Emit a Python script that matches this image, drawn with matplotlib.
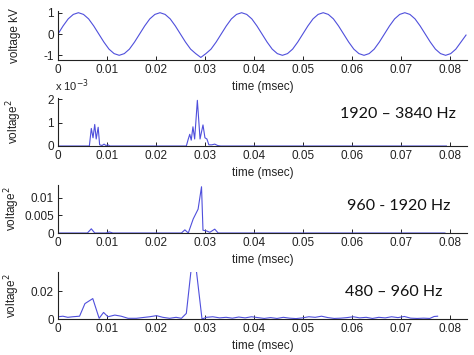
import numpy as np
import matplotlib
matplotlib.use("Agg")
import matplotlib.pyplot as plt

plt.rcParams["font.family"] = ["Liberation Sans", "DejaVu Sans"]

# --- data ---
# top panel: voltage waveform, 16 samples per cycle over 5 cycles
t_volt = np.linspace(0, 0.0833, 81)
volt = [0, .38, .71, .92, 1, .92, .71, .38, 0, -.38, -.71, -.92, -1, -.92, -.71, -.38,
        0, .38, .71, .92, 1, .92, .71, .38, 0, -.38, -.71, -.92, -1.1, -.92, -.71, -.38,
        0, .38, .71, .92, 1, .92, .71, .38, 0, -.38, -.71, -.92, -1, -.92, -.71, -.38,
        0, .38, .71, .92, 1, .92, .71, .38, 0, -.38, -.71, -.92, -1, -.92, -.71, -.38,
        0, .38, .71, .92, 1, .92, .71, .38, 0, -.38, -.71, -.92, -1, -.92, -.71, -.38,
        -0.05]

# 1920 - 3840 Hz band energy (units of 1e-3)
t_hi = [0, 0.0064, 0.0068, 0.00715, 0.0075, 0.0078, 0.0082, 0.0085, 0.0090, 0.0094,
        0.0098, 0.0102, 0.0106, 0.0262, 0.0266, 0.0269, 0.0272, 0.02755, 0.0279,
        0.02845, 0.0290, 0.0296, 0.0300, 0.0304, 0.0308, 0.0314, 0.0320, 0.0326,
        0.0332, 0.0793]
e_hi = [0, 0, 0.75, 0.35, 0.92, 0.3, 0.8, 0.05, 0.02, 0.08,
        0.02, 0.05, 0, 0, 0.3, 0.5, 0.25, 0.82, 0.3,
        1.95, 0.3, 0.9, 0.35, 0.3, 0.05, 0.05, 0.08, 0.02,
        0, 0]

# 960 - 1920 Hz band energy
t_mid = [0, 0.0060, 0.0068, 0.0075, 0.0098, 0.0105, 0.0112, 0.0252, 0.0259, 0.0266,
         0.0276, 0.0286, 0.0293, 0.0296, 0.0303, 0.0310, 0.0320, 0.0327, 0.0790]
e_mid = [0, 0, 0.0012, 0, 0, 0.0003, 0, 0, 0.0009, 0,
         0.004, 0.0068, 0.0132, 0.0008, 0.0006, 0.0002, 0.0011, 0, 0]

# 480 - 960 Hz band energy
t_lo = [0, 0.0010, 0.0020, 0.0030, 0.0044, 0.0055, 0.0071, 0.0084, 0.0093, 0.0102,
        0.0116, 0.0129, 0.0143, 0.0160, 0.0177, 0.0187, 0.0201, 0.0214, 0.0228,
        0.0241, 0.0252, 0.0262, 0.0272, 0.0282, 0.0294, 0.0303, 0.0316, 0.0330,
        0.0343, 0.0356, 0.0369, 0.0382, 0.0395, 0.0408, 0.0421, 0.0434, 0.0447,
        0.0460, 0.0473, 0.0486, 0.0499, 0.0512, 0.0525, 0.0538, 0.0551, 0.0564,
        0.0577, 0.0590, 0.0603, 0.0616, 0.0629, 0.0642, 0.0655, 0.0668, 0.0681,
        0.0694, 0.0707, 0.0720, 0.0733, 0.0746, 0.0759, 0.0768, 0.0775]
e_lo = [0.0016, 0.002, 0.0012, 0.0016, 0.002, 0.011, 0.0146, 0.0005, 0.0047, 0.0016,
        0.0028, 0.002, 0.0005, 0.0005, 0.0012, 0.0016, 0.0024, 0.0012, 0.0005,
        0.0012, 0.0005, 0.004, 0.036, 0.036, 0, 0.0012, 0.0016, 0.0008,
        0.0012, 0.0006, 0.0014, 0.0008, 0.0016, 0.0010, 0.0004, 0.0010, 0.0004,
        0.0012, 0.0006, 0.0003, 0.0008, 0.0016, 0.0012, 0.0020, 0.0010, 0.0004,
        0.0006, 0.0010, 0.0016, 0.0008, 0.0012, 0.0004, 0.0012, 0.0008, 0.0016,
        0.0010, 0.0018, 0.0006, 0.0004, 0.0006, 0.0004, 0.0018, 0.0020]

x_ticks = [0, 0.01, 0.02, 0.03, 0.04, 0.05, 0.06, 0.07, 0.08]
x_ticklabels = ["0", "0.01", "0.02", "0.03", "0.04", "0.05", "0.06", "0.07", "0.08"]

line_col = "#4f4fdc"
W, H = 474, 355
AX_L, AX_R = 58, 467


def style(ax, yticks, yticklabels, ylim, ylabel, ylab_x):
    ax.set_xlim(0, 0.0835)
    ax.set_ylim(*ylim)
    for s in ("top", "right"):
        ax.spines[s].set_visible(False)
    for s in ("left", "bottom"):
        ax.spines[s].set_linewidth(0.8)
        ax.spines[s].set_color("#222222")
    ax.set_xticks(x_ticks)
    ax.set_xticklabels(x_ticklabels)
    ax.set_yticks(yticks)
    ax.set_yticklabels(yticklabels)
    ax.tick_params(direction="in", length=3, width=0.7, labelsize=8.5,
                   colors="#222222", pad=3)
    ax.set_xlabel("time (msec)", fontsize=8.5, labelpad=3.5, color="#222222")
    ax.set_ylabel(ylabel, fontsize=8.5, color="#222222", va="center")
    # place y label centre at a fixed pixel column
    ax.yaxis.set_label_coords((ylab_x - AX_L) / (AX_R - AX_L), 0.5)


fig = plt.figure(figsize=(W / 100, H / 100), dpi=100)


def add_axes(top, bottom):
    return fig.add_axes([AX_L / W, 1 - bottom / H, (AX_R - AX_L) / W, (bottom - top) / H])


ax1 = add_axes(11, 60)
ax1.plot(t_volt, volt, color=line_col, lw=0.8)
style(ax1, [-1, 0, 1], ["-1", "0", "1"], (-1.22, 1.08), "voltage kV", 15)

ax2 = add_axes(98, 146)
ax2.plot(t_hi, np.array(e_hi) * 1e-3, color=line_col, lw=0.8)
style(ax2, [0, 1e-3, 2e-3], ["0", "1", "2"], (0, 2.05e-3), "voltage$^2$", 14)
fig.text(55 / W, 1 - 86 / H, "x 10$^{-3}$", fontsize=8, va="center", color="#222222")

ax3 = add_axes(185, 233)
ax3.plot(t_mid, e_mid, color=line_col, lw=0.8)
style(ax3, [0, 0.005, 0.01], ["0", "0.005", "0.01"], (0, 0.0137), "voltage$^2$", 12)

ax4 = add_axes(272, 319)
ax4.plot(t_lo, e_lo, color=line_col, lw=0.8)
style(ax4, [0, 0.02], ["0", "0.02"], (0, 0.0336), "voltage$^2$", 12)

band_font = ["Lato", "DejaVu Sans"]
fig.text(340 / W, 1 - 114 / H, "1920 – 3840 Hz", fontsize=11.5, family=band_font,
         va="center", color="#111111")
fig.text(347 / W, 1 - 206 / H, "960 - 1920 Hz", fontsize=11.5, family=band_font,
         va="center", color="#111111")
fig.text(345 / W, 1 - 292 / H, "480 – 960 Hz", fontsize=11.5, family=band_font,
         va="center", color="#111111")

fig.savefig("out.png", dpi=100)
